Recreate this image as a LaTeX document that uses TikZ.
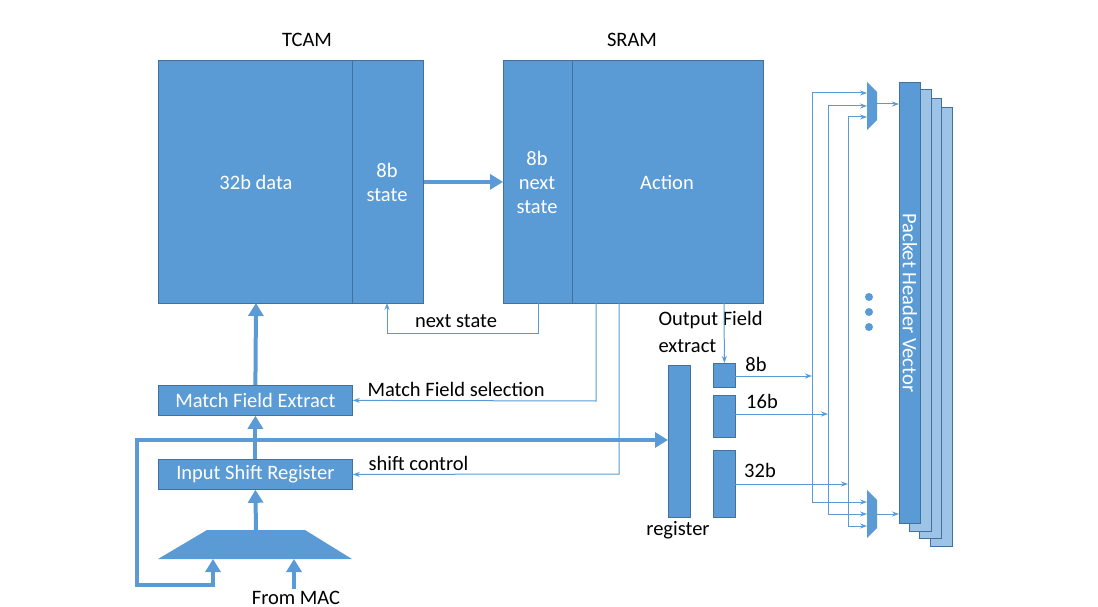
\documentclass[tikz,border=0pt]{standalone}
\usepackage{fontspec}
\setmainfont{Carlito}
\usetikzlibrary{arrows.meta}
\definecolor{bl}{HTML}{5B9BD5}
\definecolor{bd}{HTML}{41719C}
\definecolor{lb}{HTML}{9DC3E6}
\begin{document}
\begin{tikzpicture}[x=1pt,y=-1pt,
 blk/.style={fill=bl,draw=bd,line width=0.8pt},
 lt/.style={draw=bl,line width=1pt,-{Stealth[length=7pt,width=5pt]}},
 thk/.style={draw=bl,line width=4pt,-{Triangle[length=13pt,width=15pt]}},
 wt/.style={text=white,font=\fontsize{20.5}{24}\selectfont,align=center},
 bt/.style={text=black,font=\fontsize{20.5}{24}\selectfont,align=center}]
\useasboundingbox (0,0) rectangle (1098,607);
% TCAM / SRAM
\node[blk,minimum width=194,minimum height=243,anchor=north west,inner sep=0] (tdata) at (158,60) {};
\node[blk,minimum width=71,minimum height=243,anchor=north west,inner sep=0] (tstate) at (352,60) {};
\node[blk,minimum width=69,minimum height=243,anchor=north west,inner sep=0] (snext) at (503,60) {};
\node[blk,minimum width=191,minimum height=243,anchor=north west,inner sep=0] (sact) at (572,60) {};
\node[wt] at (256,182) {32b data};
\node[wt] at (387,182) {8b\\state};
\node[wt] at (537,182) {8b\\next\\state};
\node[wt] at (667,182) {Action};
\node[bt] (tl) at (307,40) {TCAM};
\node[bt] (sl) at (632,40) {SRAM};
\draw[thk] (tstate.east) -- (snext.west);
% next state loop
\coordinate (ns1) at (538,303);
\coordinate (ns2) at (387,303);
\draw[lt] (ns1) -- (538,333) -- (387,333) -- (ns2);
\node[bt] at (456,321) {next state};
% boxes
\node[blk,minimum width=194,minimum height=30,anchor=north west,inner sep=0] (mfe) at (158,385) {};
\node[wt] at (mfe.center) {Match Field Extract};
\node[blk,minimum width=194,minimum height=30,anchor=north west,inner sep=0] (isr) at (158,459) {};
\node[wt] at (isr.center) {Input Shift Register};
\fill[bl] (158,559) -- (352,559) -- (305,530) -- (207,530) -- cycle;
\coordinate (ttop) at (256,530);
% control lines
\coordinate (ms) at (596,303);
\draw[lt] (ms) -- (596,401) -- (mfe.east);
\node[bt,anchor=west] at (364,389) {Match Field selection};
\coordinate (sc) at (619,303);
\draw[lt] (sc) -- (619,474) -- (isr.east);
\node[bt,anchor=west] at (365,463) {shift control};
% thick arrows
\draw[thk] (ttop) -- (isr.south);
\draw[thk] (isr.north) -- (mfe.south);
\draw[thk] (mfe.north) -- (256,303);
\node[blk,minimum width=22,minimum height=152,anchor=north west,inner sep=0] (reg) at (668,365) {};
\draw[thk] (256,440) -- (137,440) -- (137,585) -- (213,585) -- (213,559);
\draw[thk] (256,440) -- (reg.west |- 0,440);
\draw[thk] (294,589) -- (294,559);
\node[bt,anchor=south,inner sep=1pt] at (296,606) {From MAC};
\node[bt] at (678,530) {register};
% output field
\node[blk,minimum width=22,minimum height=24,anchor=north west,inner sep=0] (b8) at (713,363) {};
\node[blk,minimum width=22,minimum height=42,anchor=north west,inner sep=0] (b16) at (713,395) {};
\node[blk,minimum width=22,minimum height=67,anchor=north west,inner sep=0] (b32) at (713,450) {};
\node[bt,anchor=west] at (655,320) {Output Field};
\node[bt,anchor=west] at (655,346) {extract};
\coordinate (of) at (724,303);
\draw[lt] (of) -- (b8.north);
\node[bt] at (756,364) {8b};
\node[bt] at (762,401) {16b};
\node[bt] at (760,470) {32b};
\draw[lt] (735,376) -- (812,376);
\draw[lt] (735,414) -- (828,414);
\draw[lt] (735,484) -- (848,484);
% muxes
\fill[bl] (867,82) -- (877,92) -- (877,120) -- (867,130) -- cycle;
\fill[bl] (867,490) -- (877,500) -- (877,528) -- (867,538) -- cycle;
\draw[lt] (812,502) -- (812,93) -- (867,93);
\draw[lt] (828,514) -- (828,106) -- (867,106);
\draw[lt] (848,526) -- (848,117) -- (867,117);
\draw[lt] (812,502) -- (867,502);
\draw[lt] (828,514) -- (867,514);
\draw[lt] (848,526) -- (867,526);
% PHV
\foreach \a/\b/\c/\d in {930/107/952/546,919/98/941/538,909/89/931/531}
  \draw[fill=lb,draw=bd,line width=0.8pt] (\a,\b) rectangle (\c,\d);
\node[blk,minimum width=21,minimum height=441,anchor=north west,inner sep=0] (phv) at (899,82) {};
\node[wt,rotate=-90] at (phv.center) {Packet Header Vector};
\draw[lt] (877,104) -- (phv.west |- 0,104);
\draw[lt] (877,514) -- (phv.west |- 0,514);
\foreach \y in {297,312,327} \fill[bl] (869,\y) circle (4);
\end{tikzpicture}
\end{document}
